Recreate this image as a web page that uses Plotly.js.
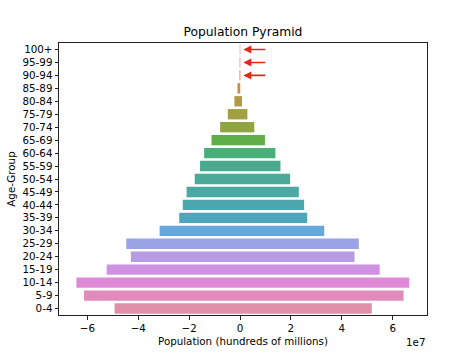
<!DOCTYPE html>
<html>
<head>
<meta charset="utf-8">
<script src="https://cdn.plot.ly/plotly-3.0.1.min.js"></script>
<style>html,body{margin:0;padding:0;background:#fff;}#chart{width:474px;height:355px;}</style>
</head>
<body>
<div id="chart"></div>
<script>
// Age groups, listed top to bottom as in the chart
const ageGroups = ['100+','95-99','90-94','85-89','80-84','75-79','70-74','65-69','60-64','55-59',
  '50-54','45-49','40-44','35-39','30-34','25-29','20-24','15-19','10-14','5-9','0-4'];
// Male (drawn to the left, negative) and Female (right, positive) populations
const male = [-0.01e7,-0.015e7,-0.02e7,-0.10e7,-0.22e7,-0.48e7,-0.78e7,-1.12e7,-1.41e7,-1.57e7,
  -1.78e7,-2.10e7,-2.25e7,-2.39e7,-3.16e7,-4.47e7,-4.29e7,-5.24e7,-6.43e7,-6.13e7,-4.93e7];
const female = [0.01e7,0.01e7,0.015e7,0.01e7,0.08e7,0.29e7,0.56e7,0.98e7,1.39e7,1.59e7,
  1.97e7,2.31e7,2.52e7,2.64e7,3.31e7,4.67e7,4.50e7,5.49e7,6.65e7,6.43e7,5.18e7];
const barColors = ['#e0757f','#dc7c62','#d2864c','#c49045','#b29a45','#a2a043','#8fa540','#5fae47',
  '#49ae78','#48ab8d','#49aa97','#4aa9a3','#4ba8ae','#4da7bb','#64a8de','#9aa3e5','#b89be5',
  '#cf92e2','#e089d8','#e18abc','#e08fa9'];
// Arrow annotations
const arrowAges = ['100+','95-99','90-94'];
const arrowHeadX = 0.13e7, arrowTailX = 1.05e7;
const xTickVals = [-6e7,-4e7,-2e7,0,2e7,4e7,6e7];
const xTickText = ['\u22126','\u22124','\u22122','0','2','4','6'];

const font = 'DejaVu Sans, sans-serif';
const traces = [
  {type:'bar', orientation:'h', y:ageGroups, x:male, width:0.8,
   marker:{color:barColors, line:{width:0}}, hoverinfo:'x+y'},
  {type:'bar', orientation:'h', y:ageGroups, x:female, width:0.8,
   marker:{color:barColors, line:{width:0}}, hoverinfo:'x+y'}
];
const annotations = arrowAges.map(a => ({
  x: arrowHeadX, y: a, ax: arrowTailX, ay: a, xref:'x', yref:'y', axref:'x', ayref:'y',
  showarrow:true, arrowhead:2, arrowsize:1, arrowwidth:1.6, arrowcolor:'#e8251b', standoff:0, text:''
}));
annotations.push({text:'1e7', xref:'paper', yref:'paper', x:1, y:-0.098, xanchor:'right', yanchor:'middle',
  showarrow:false, font:{family:font, size:10.3, color:'#000'}});

const layout = {
  width:474, height:355,
  margin:{l:59, r:47, t:43, b:40, pad:0},
  paper_bgcolor:'#fff', plot_bgcolor:'#fff',
  showlegend:false, barmode:'overlay',
  font:{family:font, size:10.3, color:'#000'},
  title:{text:'Population Pyramid', font:{family:font, size:12.3, color:'#000'},
    x:0.5125, xanchor:'center', y:(355-32)/355, yref:'container', yanchor:'middle'},
  xaxis:{range:[-7.115e7, 7.35e7], tickvals:xTickVals, ticktext:xTickText,
    showgrid:false, zeroline:false, showline:true, linecolor:'#222', linewidth:1, mirror:true,
    ticks:'outside', ticklen:3.5, tickwidth:1, tickcolor:'#222',
    tickfont:{family:font, size:10.3, color:'#000'},
    title:{text:'Population (hundreds of millions)', font:{family:font, size:10.3, color:'#000'}, standoff:4}},
  yaxis:{type:'category', categoryorder:'array', categoryarray:ageGroups, autorange:false, range:[20.5,-0.5],
    showgrid:false, zeroline:false, showline:true, linecolor:'#222', linewidth:1, mirror:true,
    ticks:'outside', ticklen:3.5, tickwidth:1, tickcolor:'#222',
    tickfont:{family:font, size:10.3, color:'#000'},
    title:{text:'Age-Group', font:{family:font, size:10.3, color:'#000'}, standoff:4}},
  annotations: annotations
};
Plotly.newPlot('chart', traces, layout, {displayModeBar:false, staticPlot:true});
</script>
</body>
</html>
